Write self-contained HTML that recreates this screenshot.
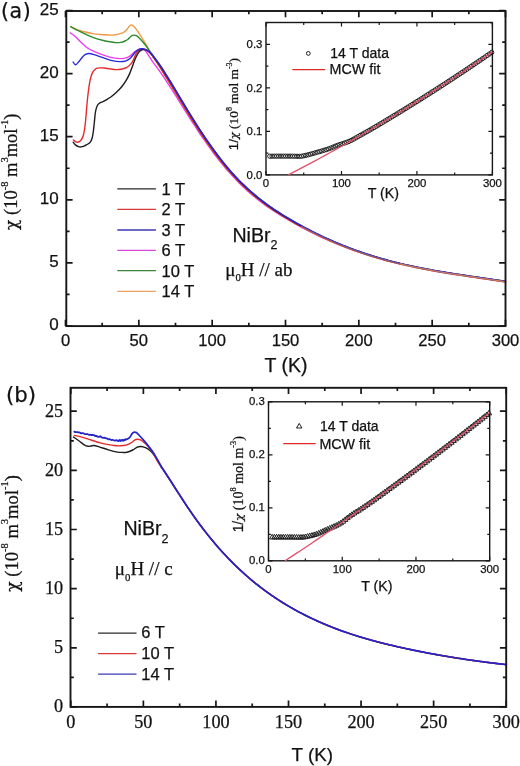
<!DOCTYPE html>
<html><head><meta charset="utf-8"><title>NiBr2 susceptibility</title>
<style>html,body{margin:0;padding:0;background:#fff;width:520px;height:766px;overflow:hidden}svg{display:block}</style>
</head><body>
<svg width="520" height="766" viewBox="0 0 520 766">
<style>text{stroke:#111;stroke-width:0.25px;paint-order:stroke}</style>
<rect width="520" height="766" fill="#fff"/>
<path d="M70.3,32.9C71.17,33.53 73.67,35.1 75.5,36.7C77.33,38.3 79.37,40.67 81.3,42.5C83.23,44.33 84.98,46.22 87.1,47.7C89.22,49.18 91.12,50.12 94,51.4C96.88,52.68 101.4,54.37 104.4,55.4C107.4,56.43 109.12,57.07 112,57.6C114.88,58.13 119.2,58.6 121.7,58.6C124.2,58.6 125.53,58.1 127,57.6C128.47,57.1 129.42,56.4 130.5,55.6C131.58,54.8 132.58,53.53 133.5,52.8C134.42,52.07 135.17,51.73 136,51.2C136.83,50.67 137.7,50 138.5,49.6C139.3,49.2 140.02,48.93 140.8,48.8C141.58,48.67 142.4,48.43 143.2,48.8C144,49.17 144.63,49.78 145.6,51C146.57,52.22 147.83,54.32 149,56.1C150.17,57.88 151.2,59.7 152.6,61.7C154,63.7 155.8,65.9 157.4,68.1C159,70.3 160.43,72.32 162.2,74.9C163.97,77.48 166.53,81.36 168,83.58C169.47,85.8 170,86.67 171,88.23C172,89.79 173,91.37 174,92.95C175,94.53 176,96.13 177,97.72C178,99.32 179,100.93 180,102.53C181,104.13 182,105.74 183,107.33C184,108.93 185,110.53 186,112.11C187,113.69 188,115.26 189,116.83C190,118.41 191,119.98 192,121.55C193,123.11 194,124.67 195,126.21C196,127.75 197,129.28 198,130.79C199,132.3 200,133.8 201,135.28C202,136.76 203,138.22 204,139.67C205,141.12 206,142.55 207,143.97C208,145.39 209,146.78 210,148.16C211,149.54 212,150.91 213,152.25C214,153.59 215,154.92 216,156.23C217,157.53 218,158.82 219,160.09C220,161.36 221,162.61 222,163.83C223,165.06 224,166.27 225,167.46C226,168.64 227,169.81 228,170.95C229,172.1 230,173.22 231,174.33C232,175.44 233,176.54 234,177.61C235,178.68 236,179.73 237,180.76C238,181.79 239,182.8 240,183.79C241,184.78 242,185.75 243,186.7C244,187.65 245,188.58 246,189.5C247,190.42 248,191.31 249,192.2C250,193.08 251,193.94 252,194.79C253,195.64 254,196.47 255,197.29C256,198.1 257,198.91 258,199.69C259,200.48 260,201.25 261,202.01C262,202.77 263,203.5 264,204.23C265,204.96 266,205.68 267,206.38C268,207.09 269,207.78 270,208.46C271,209.14 272,209.81 273,210.47C274,211.13 275,211.78 276,212.42C277,213.06 278,213.68 279,214.31C280,214.93 281,215.55 282,216.16C283,216.77 284,217.38 285,217.98C286,218.58 287,219.17 288,219.75C289,220.34 290,220.91 291,221.49C292,222.06 293,222.62 294,223.19C295,223.75 296,224.3 297,224.85C298,225.4 299,225.95 300,226.49C301,227.02 302,227.56 303,228.08C304,228.61 305,229.13 306,229.65C307,230.17 308,230.68 309,231.18C310,231.69 311,232.19 312,232.68C313,233.18 314,233.67 315,234.15C316,234.64 317,235.12 318,235.59C319,236.06 320,236.53 321,237C322,237.46 323,237.92 324,238.37C325,238.82 326,239.27 327,239.71C328,240.16 329,240.59 330,241.03C331,241.46 332,241.89 333,242.31C334,242.73 335,243.15 336,243.56C337,243.97 338,244.38 339,244.79C340,245.19 341,245.59 342,245.99C343,246.39 344,246.78 345,247.17C346,247.56 347,247.94 348,248.32C349,248.7 350,249.07 351,249.44C352,249.81 353,250.18 354,250.54C355,250.9 356,251.25 357,251.61C358,251.96 359,252.3 360,252.65C361,252.99 362,253.32 363,253.66C364,253.99 365,254.32 366,254.64C367,254.97 368,255.29 369,255.6C370,255.92 371,256.23 372,256.54C373,256.84 374,257.15 375,257.45C376,257.74 377,258.04 378,258.33C379,258.62 380,258.9 381,259.18C382,259.47 383,259.74 384,260.02C385,260.29 386,260.56 387,260.83C388,261.09 389,261.35 390,261.61C391,261.87 392,262.12 393,262.37C394,262.62 395,262.87 396,263.11C397,263.36 398,263.6 399,263.83C400,264.07 401,264.31 402,264.54C403,264.78 404,265.01 405,265.23C406,265.46 407,265.68 408,265.91C409,266.13 410,266.35 411,266.56C412,266.78 413,266.99 414,267.2C415,267.41 416,267.61 417,267.82C418,268.02 419,268.22 420,268.42C421,268.62 422,268.82 423,269.01C424,269.21 425,269.4 426,269.59C427,269.77 428,269.96 429,270.15C430,270.33 431,270.51 432,270.69C433,270.87 434,271.05 435,271.23C436,271.41 437,271.58 438,271.75C439,271.93 440,272.1 441,272.27C442,272.44 443,272.6 444,272.77C445,272.94 446,273.1 447,273.26C448,273.43 449,273.59 450,273.75C451,273.91 452,274.07 453,274.22C454,274.38 455,274.54 456,274.69C457,274.85 458,275 459,275.16C460,275.31 461,275.46 462,275.61C463,275.76 464,275.92 465,276.07C466,276.22 467,276.36 468,276.51C469,276.66 470,276.81 471,276.96C472,277.1 473,277.25 474,277.4C475,277.54 476,277.69 477,277.84C478,277.98 479,278.13 480,278.27C481,278.42 482,278.57 483,278.71C484,278.86 485,279 486,279.15C487,279.29 488,279.44 489,279.59C490,279.73 491,279.88 492,280.03C493,280.17 494,280.32 495,280.47C496,280.61 497,280.76 498,280.91C499,281.06 500,281.21 501,281.36C502,281.51 503.25,281.7 504,281.81C504.75,281.92 505.25,282 505.5,282.04" fill="none" stroke="#ec3cec" stroke-width="1.4" stroke-linejoin="round" stroke-linecap="round"/>
<path d="M70.7,26.7C72.47,27.42 77.62,29.85 81.3,31C84.98,32.15 89.68,33.02 92.8,33.6C95.92,34.18 97.5,34.27 100,34.5C102.5,34.73 105.47,34.92 107.8,35C110.13,35.08 112.07,35.2 114,35C115.93,34.8 117.82,34.25 119.4,33.8C120.98,33.35 122.32,32.93 123.5,32.3C124.68,31.67 125.62,30.9 126.5,30C127.38,29.1 128.13,27.72 128.8,26.9C129.47,26.08 130.05,25.43 130.5,25.1C130.95,24.77 131.17,24.85 131.5,24.9C131.83,24.95 131.97,25.02 132.5,25.4C133.03,25.78 133.95,26.37 134.7,27.2C135.45,28.03 136.22,29.3 137,30.4C137.78,31.5 138.03,31.67 139.4,33.8C140.77,35.93 143.27,39.89 145.2,43.2C147.13,46.51 149.53,51.17 151,53.63C152.47,56.1 153,56.54 154,57.99C155,59.45 156,60.85 157,62.35C158,63.84 159,65.4 160,66.99C161,68.57 162,70.2 163,71.83C164,73.47 165,75.17 166,76.79C167,78.41 168,79.97 169,81.58C170,83.19 171,84.81 172,86.44C173,88.07 174,89.71 175,91.36C176,93.02 177,94.69 178,96.36C179,98.02 180,99.69 181,101.36C182,103.02 183,104.69 184,106.34C185,108 186,109.66 187,111.3C188,112.94 189,114.58 190,116.19C191,117.8 192,119.39 193,120.97C194,122.55 195,124.12 196,125.67C197,127.22 198,128.76 199,130.28C200,131.8 201,133.3 202,134.79C203,136.28 204,137.76 205,139.22C206,140.67 207,142.12 208,143.54C209,144.96 210,146.37 211,147.76C212,149.15 213,150.52 214,151.87C215,153.22 216,154.55 217,155.87C218,157.18 219,158.48 220,159.75C221,161.03 222,162.28 223,163.51C224,164.75 225,165.96 226,167.16C227,168.35 228,169.52 229,170.67C230,171.82 231,172.95 232,174.06C233,175.17 234,176.26 235,177.33C236,178.4 237,179.45 238,180.48C239,181.5 240,182.51 241,183.5C242,184.49 243,185.46 244,186.41C245,187.36 246,188.3 247,189.21C248,190.13 249,191.03 250,191.91C251,192.79 252,193.66 253,194.51C254,195.36 255,196.19 256,197.01C257,197.83 258,198.63 259,199.42C260,200.21 261,200.98 262,201.74C263,202.5 264,203.25 265,203.98C266,204.71 267,205.43 268,206.14C269,206.85 270,207.54 271,208.23C272,208.92 273,209.59 274,210.25C275,210.92 276,211.57 277,212.22C278,212.86 279,213.5 280,214.13C281,214.76 282,215.38 283,215.99C284,216.61 285,217.21 286,217.81C287,218.41 288,219.01 289,219.59C290,220.18 291,220.76 292,221.34C293,221.91 294,222.48 295,223.05C296,223.61 297,224.17 298,224.72C299,225.27 300,225.82 301,226.36C302,226.9 303,227.44 304,227.97C305,228.5 306,229.03 307,229.55C308,230.06 309,230.58 310,231.09C311,231.6 312,232.1 313,232.6C314,233.1 315,233.59 316,234.08C317,234.56 318,235.05 319,235.52C320,236 321,236.47 322,236.94C323,237.4 324,237.87 325,238.32C326,238.78 327,239.23 328,239.67C329,240.12 330,240.56 331,241C332,241.43 333,241.86 334,242.29C335,242.72 336,243.14 337,243.55C338,243.97 339,244.38 340,244.79C341,245.19 342,245.59 343,245.99C344,246.39 345,246.78 346,247.17C347,247.55 348,247.93 349,248.31C350,248.69 351,249.06 352,249.43C353,249.8 354,250.16 355,250.52C356,250.88 357,251.24 358,251.58C359,251.93 360,252.28 361,252.62C362,252.96 363,253.3 364,253.63C365,253.96 366,254.29 367,254.61C368,254.93 369,255.25 370,255.57C371,255.88 372,256.19 373,256.5C374,256.8 375,257.1 376,257.4C377,257.7 378,257.99 379,258.28C380,258.57 381,258.85 382,259.13C383,259.42 384,259.69 385,259.96C386,260.24 387,260.51 388,260.77C389,261.03 390,261.3 391,261.55C392,261.81 393,262.06 394,262.31C395,262.56 396,262.81 397,263.05C398,263.29 399,263.53 400,263.77C401,264.01 402,264.24 403,264.47C404,264.71 405,264.93 406,265.16C407,265.38 408,265.61 409,265.83C410,266.05 411,266.26 412,266.47C413,266.69 414,266.9 415,267.11C416,267.31 417,267.52 418,267.72C419,267.92 420,268.12 421,268.32C422,268.52 423,268.71 424,268.9C425,269.1 426,269.29 427,269.47C428,269.66 429,269.85 430,270.03C431,270.21 432,270.39 433,270.57C434,270.75 435,270.93 436,271.11C437,271.28 438,271.45 439,271.63C440,271.8 441,271.97 442,272.14C443,272.3 444,272.47 445,272.63C446,272.8 447,272.96 448,273.12C449,273.29 450,273.45 451,273.61C452,273.77 453,273.92 454,274.08C455,274.24 456,274.39 457,274.55C458,274.7 459,274.86 460,275.01C461,275.16 462,275.31 463,275.46C464,275.62 465,275.77 466,275.91C467,276.06 468,276.21 469,276.36C470,276.51 471,276.66 472,276.8C473,276.95 474,277.1 475,277.24C476,277.39 477,277.54 478,277.68C479,277.83 480,277.97 481,278.12C482,278.27 483,278.41 484,278.56C485,278.7 486,278.85 487,278.99C488,279.14 489,279.29 490,279.43C491,279.58 492,279.73 493,279.87C494,280.02 495,280.17 496,280.31C497,280.46 498,280.61 499,280.76C500,280.91 501,281.06 502,281.21C503,281.36 504.42,281.57 505,281.66C505.58,281.75 505.42,281.73 505.5,281.74" fill="none" stroke="#f49a48" stroke-width="1.4" stroke-linejoin="round" stroke-linecap="round"/>
<path d="M70.7,26.7C72.47,27.6 77.62,30.33 81.3,32.1C84.98,33.87 88.95,35.85 92.8,37.3C96.65,38.75 101.53,40.07 104.4,40.8C107.27,41.53 108.07,41.4 110,41.7C111.93,42 114.17,42.48 116,42.6C117.83,42.72 119.5,42.67 121,42.4C122.5,42.13 123.83,41.53 125,41C126.17,40.47 127.08,39.9 128,39.2C128.92,38.5 129.75,37.43 130.5,36.8C131.25,36.17 131.92,35.68 132.5,35.4C133.08,35.12 133.42,35.08 134,35.1C134.58,35.12 135.3,35.2 136,35.5C136.7,35.8 137.05,35.82 138.2,36.9C139.35,37.98 141.33,40.15 142.9,42C144.47,43.85 145.92,45.57 147.6,48C149.28,50.43 151.6,54.44 153,56.58C154.4,58.73 155,59.4 156,60.87C157,62.35 158,63.87 159,65.42C160,66.97 161,68.53 162,70.16C163,71.79 164,73.58 165,75.21C166,76.85 167,78.37 168,79.97C169,81.57 170,83.19 171,84.81C172,86.44 173,88.07 174,89.72C175,91.37 176,93.03 177,94.69C178,96.35 179,98.02 180,99.69C181,101.36 182,103.02 183,104.68C184,106.34 185,108 186,109.65C187,111.3 188,112.95 189,114.57C190,116.19 191,117.8 192,119.39C193,120.98 194,122.55 195,124.11C196,125.67 197,127.22 198,128.75C199,130.28 200,131.8 201,133.3C202,134.8 203,136.28 204,137.75C205,139.22 206,140.67 207,142.11C208,143.55 209,144.96 210,146.36C211,147.76 212,149.15 213,150.51C214,151.87 215,153.22 216,154.55C217,155.87 218,157.18 219,158.47C220,159.76 221,161.03 222,162.27C223,163.52 224,164.75 225,165.96C226,167.16 227,168.35 228,169.51C229,170.68 230,171.82 231,172.94C232,174.07 233,175.17 234,176.25C235,177.34 236,178.4 237,179.44C238,180.48 239,181.5 240,182.51C241,183.51 242,184.49 243,185.45C244,186.42 245,187.36 246,188.29C247,189.22 248,190.13 249,191.02C250,191.92 251,192.79 252,193.65C253,194.51 254,195.36 255,196.19C256,197.02 257,197.83 258,198.63C259,199.43 260,200.21 261,200.98C262,201.75 263,202.5 264,203.24C265,203.98 266,204.71 267,205.43C268,206.14 269,206.85 270,207.54C271,208.23 272,208.91 273,209.59C274,210.26 275,210.92 276,211.57C277,212.22 278,212.86 279,213.5C280,214.13 281,214.76 282,215.38C283,216 284,216.61 285,217.21C286,217.82 287,218.41 288,219C289,219.6 290,220.18 291,220.76C292,221.34 293,221.91 294,222.48C295,223.05 296,223.61 297,224.17C298,224.72 299,225.27 300,225.82C301,226.36 302,226.9 303,227.44C304,227.97 305,228.5 306,229.02C307,229.55 308,230.06 309,230.58C310,231.09 311,231.6 312,232.1C313,232.6 314,233.1 315,233.59C316,234.08 317,234.56 318,235.04C319,235.52 320,236 321,236.47C322,236.94 323,237.4 324,237.86C325,238.32 326,238.78 327,239.23C328,239.68 329,240.12 330,240.56C331,241 332,241.43 333,241.86C334,242.29 335,242.72 336,243.14C337,243.55 338,243.97 339,244.38C340,244.79 341,245.19 342,245.59C343,245.99 344,246.39 345,246.78C346,247.17 347,247.55 348,247.93C349,248.31 350,248.69 351,249.06C352,249.43 353,249.8 354,250.16C355,250.52 356,250.88 357,251.23C358,251.59 359,251.93 360,252.28C361,252.62 362,252.96 363,253.3C364,253.63 365,253.96 366,254.29C367,254.61 368,254.93 369,255.25C370,255.57 371,255.88 372,256.19C373,256.5 374,256.8 375,257.1C376,257.4 377,257.7 378,257.99C379,258.28 380,258.57 381,258.85C382,259.14 383,259.42 384,259.69C385,259.97 386,260.24 387,260.5C388,260.77 389,261.03 390,261.29C391,261.55 392,261.81 393,262.06C394,262.31 395,262.56 396,262.81C397,263.05 398,263.29 399,263.53C400,263.77 401,264.01 402,264.24C403,264.48 404,264.71 405,264.93C406,265.16 407,265.38 408,265.61C409,265.83 410,266.05 411,266.26C412,266.48 413,266.69 414,266.9C415,267.11 416,267.31 417,267.52C418,267.72 419,267.92 420,268.12C421,268.32 422,268.52 423,268.71C424,268.91 425,269.1 426,269.29C427,269.47 428,269.66 429,269.85C430,270.03 431,270.21 432,270.39C433,270.57 434,270.75 435,270.93C436,271.11 437,271.28 438,271.45C439,271.63 440,271.8 441,271.97C442,272.14 443,272.3 444,272.47C445,272.64 446,272.8 447,272.96C448,273.13 449,273.29 450,273.45C451,273.61 452,273.77 453,273.92C454,274.08 455,274.24 456,274.39C457,274.55 458,274.7 459,274.86C460,275.01 461,275.16 462,275.31C463,275.46 464,275.62 465,275.77C466,275.92 467,276.06 468,276.21C469,276.36 470,276.51 471,276.66C472,276.8 473,276.95 474,277.1C475,277.24 476,277.39 477,277.54C478,277.68 479,277.83 480,277.97C481,278.12 482,278.27 483,278.41C484,278.56 485,278.7 486,278.85C487,278.99 488,279.14 489,279.29C490,279.43 491,279.58 492,279.73C493,279.87 494,280.02 495,280.17C496,280.31 497,280.46 498,280.61C499,280.76 500,280.91 501,281.06C502,281.21 503.25,281.4 504,281.51C504.75,281.62 505.25,281.7 505.5,281.74" fill="none" stroke="#2e8a2e" stroke-width="1.4" stroke-linejoin="round" stroke-linecap="round"/>
<path d="M73.4,139.9C73.75,140.18 74.82,141.22 75.5,141.6C76.18,141.98 76.8,142.23 77.5,142.2C78.2,142.17 79.02,141.88 79.7,141.4C80.38,140.92 81,140.28 81.6,139.3C82.2,138.32 82.8,137.22 83.3,135.5C83.8,133.78 84.2,131.67 84.6,129C85,126.33 85.32,123.47 85.7,119.5C86.08,115.53 86.5,109.53 86.9,105.2C87.3,100.87 87.62,97.42 88.1,93.5C88.58,89.58 89.28,84.62 89.8,81.7C90.32,78.78 90.7,77.58 91.2,76C91.7,74.42 92.25,73.2 92.8,72.2C93.35,71.2 93.88,70.63 94.5,70C95.12,69.37 95.58,68.75 96.5,68.4C97.42,68.05 98.68,67.97 100,67.9C101.32,67.83 102.73,67.83 104.4,68C106.07,68.17 108.07,68.63 110,68.9C111.93,69.17 114.17,69.53 116,69.6C117.83,69.67 119.42,69.57 121,69.3C122.58,69.03 124.25,68.52 125.5,68C126.75,67.48 127.5,67 128.5,66.2C129.5,65.4 130.62,64.4 131.5,63.2C132.38,62 133.08,60.5 133.8,59C134.52,57.5 135.07,55.53 135.8,54.2C136.53,52.87 137.32,51.82 138.2,51C139.08,50.18 140.1,49.58 141.1,49.3C142.1,49.02 143.12,49.05 144.2,49.3C145.28,49.55 146.3,49.83 147.6,50.8C148.9,51.77 150.77,53.66 152,55.1C153.23,56.54 154,57.96 155,59.42C156,60.89 157,62.35 158,63.87C159,65.4 160,66.96 161,68.57C162,70.17 163,71.88 164,73.52C165,75.15 166,76.76 167,78.37C168,79.99 169,81.57 170,83.19C171,84.81 172,86.44 173,88.08C174,89.72 175,91.37 176,93.03C177,94.68 178,96.36 179,98.02C180,99.69 181,101.36 182,103.02C183,104.68 184,106.35 185,108C186,109.65 187,111.3 188,112.94C189,114.57 190,116.19 191,117.79C192,119.4 193,120.98 194,122.55C195,124.12 196,125.67 197,127.21C198,128.76 199,130.28 200,131.79C201,133.3 202,134.8 203,136.28C204,137.76 205,139.22 206,140.67C207,142.12 208,143.55 209,144.96C210,146.37 211,147.76 212,149.14C213,150.52 214,151.88 215,153.21C216,154.55 217,155.87 218,157.18C219,158.48 220,159.76 221,161.02C222,162.28 223,163.52 224,164.74C225,165.96 226,167.16 227,168.34C228,169.52 229,170.67 230,171.81C231,172.95 232,174.07 233,175.17C234,176.26 235,177.34 236,178.39C237,179.45 238,180.48 239,181.5C240,182.51 241,183.51 242,184.48C243,185.46 244,186.42 245,187.36C246,188.3 247,189.22 248,190.12C249,191.03 250,191.92 251,192.79C252,193.66 253,194.51 254,195.35C255,196.19 256,197.02 257,197.82C258,198.63 259,199.43 260,200.21C261,200.99 262,201.75 263,202.5C264,203.25 265,203.98 266,204.71C267,205.43 268,206.14 269,206.84C270,207.54 271,208.23 272,208.91C273,209.59 274,210.26 275,210.91C276,211.57 277,212.22 278,212.86C279,213.5 280,214.13 281,214.75C282,215.38 283,215.99 284,216.6C285,217.21 286,217.82 287,218.41C288,219.01 289,219.59 290,220.18C291,220.76 292,221.34 293,221.91C294,222.48 295,223.05 296,223.61C297,224.17 298,224.72 299,225.27C300,225.82 301,226.36 302,226.9C303,227.44 304,227.97 305,228.5C306,229.03 307,229.55 308,230.06C309,230.58 310,231.09 311,231.59C312,232.1 313,232.6 314,233.09C315,233.59 316,234.08 317,234.56C318,235.05 319,235.52 320,236C321,236.47 322,236.94 323,237.4C324,237.87 325,238.32 326,238.78C327,239.23 328,239.68 329,240.12C330,240.56 331,241 332,241.43C333,241.86 334,242.29 335,242.71C336,243.14 337,243.55 338,243.97C339,244.38 340,244.79 341,245.19C342,245.59 343,245.99 344,246.39C345,246.78 346,247.17 347,247.55C348,247.94 349,248.31 350,248.69C351,249.06 352,249.43 353,249.8C354,250.16 355,250.52 356,250.88C357,251.24 358,251.59 359,251.93C360,252.28 361,252.62 362,252.96C363,253.3 364,253.63 365,253.96C366,254.29 367,254.61 368,254.93C369,255.25 370,255.57 371,255.88C372,256.19 373,256.5 374,256.8C375,257.1 376,257.4 377,257.7C378,257.99 379,258.28 380,258.57C381,258.85 382,259.14 383,259.41C384,259.69 385,259.97 386,260.24C387,260.51 388,260.77 389,261.03C390,261.3 391,261.55 392,261.81C393,262.06 394,262.31 395,262.56C396,262.81 397,263.05 398,263.29C399,263.53 400,263.77 401,264.01C402,264.24 403,264.48 404,264.71C405,264.93 406,265.16 407,265.38C408,265.61 409,265.83 410,266.04C411,266.26 412,266.48 413,266.69C414,266.9 415,267.11 416,267.31C417,267.52 418,267.72 419,267.92C420,268.12 421,268.32 422,268.52C423,268.71 424,268.91 425,269.1C426,269.29 427,269.47 428,269.66C429,269.85 430,270.03 431,270.21C432,270.4 433,270.57 434,270.75C435,270.93 436,271.11 437,271.28C438,271.45 439,271.63 440,271.8C441,271.97 442,272.14 443,272.3C444,272.47 445,272.64 446,272.8C447,272.96 448,273.13 449,273.29C450,273.45 451,273.61 452,273.77C453,273.92 454,274.08 455,274.24C456,274.39 457,274.55 458,274.7C459,274.86 460,275.01 461,275.16C462,275.31 463,275.46 464,275.62C465,275.77 466,275.92 467,276.06C468,276.21 469,276.36 470,276.51C471,276.66 472,276.8 473,276.95C474,277.1 475,277.24 476,277.39C477,277.54 478,277.68 479,277.83C480,277.97 481,278.12 482,278.27C483,278.41 484,278.56 485,278.7C486,278.85 487,278.99 488,279.14C489,279.29 490,279.43 491,279.58C492,279.73 493,279.87 494,280.02C495,280.17 496,280.31 497,280.46C498,280.61 499,280.76 500,280.91C501,281.06 502.08,281.22 503,281.36C503.92,281.5 505.08,281.68 505.5,281.74" fill="none" stroke="#e52a2a" stroke-width="1.4" stroke-linejoin="round" stroke-linecap="round"/>
<path d="M73.2,142.2C73.62,142.68 74.68,144.32 75.7,145.1C76.72,145.88 78.17,146.65 79.3,146.9C80.43,147.15 81.53,146.83 82.5,146.6C83.47,146.37 84.18,145.93 85.1,145.5C86.02,145.07 87.12,144.62 88,144C88.88,143.38 89.73,142.72 90.4,141.8C91.07,140.88 91.53,140.05 92,138.5C92.47,136.95 92.82,135.12 93.2,132.5C93.58,129.88 93.95,126.05 94.3,122.8C94.65,119.55 94.93,115.53 95.3,113C95.67,110.47 96.03,109.03 96.5,107.6C96.97,106.17 97.43,105.23 98.1,104.4C98.77,103.57 99.68,103.07 100.5,102.6C101.32,102.13 102.05,102.07 103,101.6C103.95,101.13 104.95,100.52 106.2,99.8C107.45,99.08 108.97,98.38 110.5,97.3C112.03,96.22 113.98,94.55 115.4,93.3C116.82,92.05 117.85,91.02 119,89.8C120.15,88.58 121.13,87.53 122.3,86C123.47,84.47 124.85,82.5 126,80.6C127.15,78.7 128.27,76.6 129.2,74.6C130.13,72.6 130.83,70.6 131.6,68.6C132.37,66.6 133.13,64.37 133.8,62.6C134.47,60.83 135.02,59.33 135.6,58C136.18,56.67 136.7,55.63 137.3,54.6C137.9,53.57 138.52,52.57 139.2,51.8C139.88,51.03 140.57,50.37 141.4,50C142.23,49.63 143.17,49.48 144.2,49.6C145.23,49.72 146.3,49.86 147.6,50.7C148.9,51.54 150.77,53.33 152,54.64C153.23,55.96 154,57.25 155,58.59C156,59.92 157,61.26 158,62.66C159,64.05 160,65.49 161,66.97C162,68.45 163,69.98 164,71.53C165,73.09 166,74.68 167,76.28C168,77.88 169,79.49 170,81.12C171,82.74 172,84.38 173,86.03C174,87.67 175,89.33 176,91C177,92.66 178,94.34 179,96.02C180,97.69 181,99.37 182,101.04C183,102.71 184,104.38 185,106.04C186,107.7 187,109.35 188,110.99C189,112.64 190,114.27 191,115.89C192,117.5 193,119.11 194,120.7C195,122.29 196,123.86 197,125.42C198,126.98 199,128.53 200,130.06C201,131.59 202,133.1 203,134.6C204,136.1 205,137.59 206,139.05C207,140.52 208,141.97 209,143.4C210,144.83 211,146.24 212,147.64C213,149.03 214,150.41 215,151.77C216,153.13 217,154.47 218,155.79C219,157.11 220,158.41 221,159.69C222,160.97 223,162.23 224,163.47C225,164.71 226,165.93 227,167.13C228,168.33 229,169.51 230,170.66C231,171.81 232,172.93 233,174.03C234,175.14 235,176.22 236,177.28C237,178.35 238,179.39 239,180.41C240,181.43 241,182.43 242,183.42C243,184.4 244,185.37 245,186.32C246,187.26 247,188.19 248,189.1C249,190.02 250,190.91 251,191.79C252,192.67 253,193.53 254,194.38C255,195.22 256,196.05 257,196.87C258,197.69 259,198.49 260,199.27C261,200.06 262,200.83 263,201.59C264,202.34 265,203.09 266,203.82C267,204.55 268,205.27 269,205.98C270,206.68 271,207.38 272,208.07C273,208.75 274,209.43 275,210.09C276,210.76 277,211.41 278,212.06C279,212.71 280,213.34 281,213.97C282,214.6 283,215.22 284,215.84C285,216.45 286,217.05 287,217.65C288,218.25 289,218.85 290,219.43C291,220.02 292,220.6 293,221.18C294,221.76 295,222.33 296,222.89C297,223.45 298,224.01 299,224.57C300,225.12 301,225.67 302,226.21C303,226.75 304,227.28 305,227.81C306,228.34 307,228.87 308,229.39C309,229.91 310,230.42 311,230.93C312,231.44 313,231.94 314,232.44C315,232.93 316,233.43 317,233.91C318,234.4 319,234.88 320,235.36C321,235.83 322,236.31 323,236.77C324,237.24 325,237.7 326,238.15C327,238.61 328,239.06 329,239.51C330,239.95 331,240.39 332,240.83C333,241.26 334,241.69 335,242.12C336,242.54 337,242.97 338,243.38C339,243.8 340,244.21 341,244.61C342,245.02 343,245.42 344,245.82C345,246.21 346,246.61 347,246.99C348,247.38 349,247.76 350,248.14C351,248.52 352,248.89 353,249.26C354,249.62 355,249.99 356,250.35C357,250.71 358,251.06 359,251.41C360,251.76 361,252.11 362,252.45C363,252.79 364,253.12 365,253.45C366,253.79 367,254.11 368,254.44C369,254.76 370,255.08 371,255.39C372,255.71 373,256.02 374,256.32C375,256.63 376,256.93 377,257.23C378,257.53 379,257.82 380,258.11C381,258.4 382,258.68 383,258.96C384,259.24 385,259.52 386,259.79C387,260.07 388,260.34 389,260.6C390,260.87 391,261.13 392,261.38C393,261.64 394,261.9 395,262.15C396,262.4 397,262.64 398,262.89C399,263.13 400,263.37 401,263.61C402,263.84 403,264.08 404,264.31C405,264.53 406,264.76 407,264.98C408,265.21 409,265.43 410,265.64C411,265.86 412,266.08 413,266.29C414,266.5 415,266.71 416,266.91C417,267.12 418,267.32 419,267.52C420,267.72 421,267.92 422,268.12C423,268.31 424,268.51 425,268.7C426,268.89 427,269.07 428,269.26C429,269.45 430,269.63 431,269.81C432,270 433,270.17 434,270.35C435,270.53 436,270.71 437,270.88C438,271.05 439,271.23 440,271.4C441,271.57 442,271.74 443,271.9C444,272.07 445,272.24 446,272.4C447,272.56 448,272.73 449,272.89C450,273.05 451,273.21 452,273.37C453,273.52 454,273.68 455,273.84C456,273.99 457,274.15 458,274.3C459,274.46 460,274.61 461,274.76C462,274.91 463,275.06 464,275.22C465,275.37 466,275.52 467,275.66C468,275.81 469,275.96 470,276.11C471,276.26 472,276.4 473,276.55C474,276.7 475,276.84 476,276.99C477,277.14 478,277.28 479,277.43C480,277.57 481,277.72 482,277.87C483,278.01 484,278.16 485,278.3C486,278.45 487,278.59 488,278.74C489,278.89 490,279.03 491,279.18C492,279.33 493,279.47 494,279.62C495,279.77 496,279.91 497,280.06C498,280.21 499,280.36 500,280.51C501,280.66 502.08,280.82 503,280.96C503.92,281.1 505.08,281.28 505.5,281.34" fill="none" stroke="#1c1c1c" stroke-width="1.4" stroke-linejoin="round" stroke-linecap="round"/>
<path d="M73.2,62.1C73.58,62.55 74.53,64.9 75.5,64.8C76.47,64.7 77.83,62.82 79,61.5C80.17,60.18 81.33,58.12 82.5,56.9C83.67,55.68 84.92,54.77 86,54.2C87.08,53.63 87.67,53.43 89,53.5C90.33,53.57 91.43,53.83 94,54.6C96.57,55.37 101.4,57.1 104.4,58.1C107.4,59.1 109.4,60.02 112,60.6C114.6,61.18 117.67,61.57 120,61.6C122.33,61.63 124.33,61.32 126,60.8C127.67,60.28 128.83,59.47 130,58.5C131.17,57.53 132.03,56.18 133,55C133.97,53.82 134.8,52.35 135.8,51.4C136.8,50.45 138.02,49.75 139,49.3C139.98,48.85 140.78,48.73 141.7,48.7C142.62,48.67 143.52,48.8 144.5,49.1C145.48,49.4 146.52,49.85 147.6,50.5C148.68,51.15 149.93,51.93 151,53.01C152.07,54.09 153,55.66 154,56.99C155,58.31 156,59.59 157,60.96C158,62.33 159,63.76 160,65.22C161,66.67 162,68.16 163,69.69C164,71.22 165,72.81 166,74.4C167,75.98 168,77.59 169,79.21C170,80.83 171,82.46 172,84.1C173,85.74 174,87.38 175,89.04C176,90.7 177,92.39 178,94.06C179,95.73 180,97.41 181,99.08C182,100.76 183,102.43 184,104.1C185,105.76 186,107.42 187,109.07C188,110.72 189,112.36 190,113.99C191,115.62 192,117.23 193,118.83C194,120.43 195,122.02 196,123.59C197,125.16 198,126.72 199,128.26C200,129.8 201,131.32 202,132.83C203,134.34 204,135.84 205,137.32C206,138.79 207,140.26 208,141.7C209,143.14 210,144.57 211,145.98C212,147.39 213,148.78 214,150.15C215,151.52 216,152.87 217,154.21C218,155.54 219,156.86 220,158.15C221,159.45 222,160.72 223,161.97C224,163.23 225,164.46 226,165.68C227,166.89 228,168.08 229,169.25C230,170.42 231,171.56 232,172.68C233,173.8 234,174.89 235,175.97C236,177.05 237,178.1 238,179.14C239,180.18 240,181.19 241,182.19C242,183.19 243,184.16 244,185.12C245,186.08 246,187.03 247,187.95C248,188.87 249,189.78 250,190.67C251,191.56 252,192.43 253,193.29C254,194.15 255,194.99 256,195.82C257,196.65 258,197.46 259,198.26C260,199.05 261,199.83 262,200.6C263,201.37 264,202.12 265,202.86C266,203.6 267,204.33 268,205.04C269,205.76 270,206.46 271,207.16C272,207.85 273,208.53 274,209.21C275,209.88 276,210.54 277,211.19C278,211.85 279,212.49 280,213.13C281,213.76 282,214.39 283,215.01C284,215.63 285,216.24 286,216.84C287,217.45 288,218.05 289,218.64C290,219.23 291,219.82 292,220.4C293,220.98 294,221.55 295,222.12C296,222.69 297,223.25 298,223.81C299,224.37 300,224.92 301,225.47C302,226.01 303,226.55 304,227.09C305,227.63 306,228.16 307,228.68C308,229.2 309,229.72 310,230.24C311,230.75 312,231.26 313,231.76C314,232.27 315,232.76 316,233.26C317,233.75 318,234.24 319,234.72C320,235.2 321,235.68 322,236.15C323,236.62 324,237.09 325,237.55C326,238.01 327,238.46 328,238.91C329,239.37 330,239.81 331,240.25C332,240.69 333,241.13 334,241.56C335,241.99 336,242.42 337,242.84C338,243.26 339,243.67 340,244.09C341,244.5 342,244.9 343,245.31C344,245.71 345,246.1 346,246.5C347,246.89 348,247.27 349,247.66C350,248.04 351,248.42 352,248.79C353,249.16 354,249.53 355,249.9C356,250.26 357,250.62 358,250.97C359,251.33 360,251.68 361,252.03C362,252.37 363,252.71 364,253.05C365,253.39 366,253.72 367,254.05C368,254.37 369,254.7 370,255.02C371,255.34 372,255.65 373,255.96C374,256.27 375,256.58 376,256.88C377,257.18 378,257.48 379,257.78C380,258.07 381,258.36 382,258.64C383,258.93 384,259.21 385,259.49C386,259.77 387,260.04 388,260.31C389,260.58 390,260.85 391,261.11C392,261.37 393,261.63 394,261.88C395,262.14 396,262.39 397,262.64C398,262.88 399,263.13 400,263.37C401,263.61 402,263.84 403,264.07C404,264.31 405,264.53 406,264.76C407,264.98 408,265.21 409,265.43C410,265.65 411,265.86 412,266.07C413,266.29 414,266.5 415,266.71C416,266.91 417,267.12 418,267.32C419,267.52 420,267.72 421,267.92C422,268.12 423,268.31 424,268.5C425,268.7 426,268.89 427,269.07C428,269.26 429,269.45 430,269.63C431,269.81 432,269.99 433,270.17C434,270.35 435,270.53 436,270.71C437,270.88 438,271.05 439,271.23C440,271.4 441,271.57 442,271.74C443,271.9 444,272.07 445,272.23C446,272.4 447,272.56 448,272.72C449,272.89 450,273.05 451,273.21C452,273.37 453,273.52 454,273.68C455,273.84 456,273.99 457,274.15C458,274.3 459,274.46 460,274.61C461,274.76 462,274.91 463,275.06C464,275.22 465,275.37 466,275.51C467,275.66 468,275.81 469,275.96C470,276.11 471,276.26 472,276.4C473,276.55 474,276.7 475,276.84C476,276.99 477,277.14 478,277.28C479,277.43 480,277.57 481,277.72C482,277.87 483,278.01 484,278.16C485,278.3 486,278.45 487,278.59C488,278.74 489,278.89 490,279.03C491,279.18 492,279.33 493,279.47C494,279.62 495,279.77 496,279.91C497,280.06 498,280.21 499,280.36C500,280.51 501,280.66 502,280.81C503,280.96 504.42,281.17 505,281.26C505.58,281.35 505.42,281.33 505.5,281.34" fill="none" stroke="#2828d8" stroke-width="1.4" stroke-linejoin="round" stroke-linecap="round"/>
<path d="M301,226.36C301.5,226.63 303,227.44 304,227.97C305,228.5 306,229.03 307,229.55C308,230.06 309,230.58 310,231.09C311,231.6 312,232.1 313,232.6C314,233.1 315,233.59 316,234.08C317,234.56 318,235.05 319,235.52C320,236 321,236.47 322,236.94C323,237.4 324,237.87 325,238.32C326,238.78 327,239.23 328,239.67C329,240.12 330,240.56 331,241C332,241.43 333,241.86 334,242.29C335,242.72 336,243.14 337,243.55C338,243.97 339,244.38 340,244.79C341,245.19 342,245.59 343,245.99C344,246.39 345,246.78 346,247.17C347,247.55 348,247.93 349,248.31C350,248.69 351,249.06 352,249.43C353,249.8 354,250.16 355,250.52C356,250.88 357,251.24 358,251.58C359,251.93 360,252.28 361,252.62C362,252.96 363,253.3 364,253.63C365,253.96 366,254.29 367,254.61C368,254.93 369,255.25 370,255.57C371,255.88 372,256.19 373,256.5C374,256.8 375,257.1 376,257.4C377,257.7 378,257.99 379,258.28C380,258.57 381,258.85 382,259.13C383,259.42 384,259.69 385,259.96C386,260.24 387,260.51 388,260.77C389,261.03 390,261.3 391,261.55C392,261.81 393,262.06 394,262.31C395,262.56 396,262.81 397,263.05C398,263.29 399.5,263.65 400,263.77" fill="none" stroke="#f49a48" stroke-width="1.4" stroke-linecap="butt" opacity="0.45"/>
<path d="M400,263.77C400.5,263.89 402,264.24 403,264.47C404,264.71 405,264.93 406,265.16C407,265.38 408,265.61 409,265.83C410,266.05 411,266.26 412,266.47C413,266.69 414,266.9 415,267.11C416,267.31 417,267.52 418,267.72C419,267.92 420,268.12 421,268.32C422,268.52 423,268.71 424,268.9C425,269.1 426,269.29 427,269.47C428,269.66 429,269.85 430,270.03C431,270.21 432,270.39 433,270.57C434,270.75 435,270.93 436,271.11C437,271.28 438,271.45 439,271.63C440,271.8 441,271.97 442,272.14C443,272.3 444,272.47 445,272.63C446,272.8 447,272.96 448,273.12C449,273.29 450,273.45 451,273.61C452,273.77 453,273.92 454,274.08C455,274.24 456,274.39 457,274.55C458,274.7 459,274.86 460,275.01C461,275.16 462,275.31 463,275.46C464,275.62 465,275.77 466,275.91C467,276.06 468,276.21 469,276.36C470,276.51 471,276.66 472,276.8C473,276.95 474,277.1 475,277.24C476,277.39 477,277.54 478,277.68C479,277.83 480,277.97 481,278.12C482,278.27 483,278.41 484,278.56C485,278.7 486,278.85 487,278.99C488,279.14 489,279.29 490,279.43C491,279.58 492,279.73 493,279.87C494,280.02 495,280.17 496,280.31C497,280.46 498,280.61 499,280.76C500,280.91 501,281.06 502,281.21C503,281.36 504.42,281.57 505,281.66C505.58,281.75 505.42,281.73 505.5,281.74" fill="none" stroke="#f49a48" stroke-width="1.4" stroke-linecap="butt" opacity="0.75"/>
<rect x="266" y="22.5" width="226.4" height="152.4" fill="#fff" stroke="#161616" stroke-width="1.4"/>
<path d="M266,174.9v-4M266,22.5v4M303.73,174.9v-2.4M303.73,22.5v2.4M341.47,174.9v-4M341.47,22.5v4M379.2,174.9v-2.4M379.2,22.5v2.4M416.93,174.9v-4M416.93,22.5v4M454.67,174.9v-2.4M454.67,22.5v2.4M492.4,174.9v-4M492.4,22.5v4M266,174.9h4M492.4,174.9h-4M266,153.15h2.4M492.4,153.15h-2.4M266,131.4h4M492.4,131.4h-4M266,109.65h2.4M492.4,109.65h-2.4M266,87.9h4M492.4,87.9h-4M266,66.15h2.4M492.4,66.15h-2.4M266,44.4h4M492.4,44.4h-4M266,22.65h2.4M492.4,22.65h-2.4" stroke="#161616" stroke-width="1.2" fill="none"/>
<g fill="none" stroke="#1e1e1e" stroke-width="1.0"><circle cx="269.77" cy="156.19" r="2.15"/><circle cx="272.04" cy="156.18" r="2.15"/><circle cx="274.3" cy="156.17" r="2.15"/><circle cx="276.57" cy="156.16" r="2.15"/><circle cx="278.83" cy="156.15" r="2.15"/><circle cx="281.09" cy="156.15" r="2.15"/><circle cx="283.36" cy="156.15" r="2.15"/><circle cx="285.62" cy="156.15" r="2.15"/><circle cx="287.89" cy="156.15" r="2.15"/><circle cx="290.15" cy="156.15" r="2.15"/><circle cx="292.41" cy="156.18" r="2.15"/><circle cx="294.68" cy="156.24" r="2.15"/><circle cx="296.94" cy="156.3" r="2.15"/><circle cx="299.21" cy="156.36" r="2.15"/><circle cx="301.47" cy="156.24" r="2.15"/><circle cx="303.73" cy="155.78" r="2.15"/><circle cx="306" cy="155.31" r="2.15"/><circle cx="308.26" cy="154.75" r="2.15"/><circle cx="310.53" cy="154.17" r="2.15"/><circle cx="312.79" cy="153.55" r="2.15"/><circle cx="315.05" cy="152.9" r="2.15"/><circle cx="317.32" cy="152.24" r="2.15"/><circle cx="319.58" cy="151.58" r="2.15"/><circle cx="321.85" cy="150.93" r="2.15"/><circle cx="324.11" cy="150.27" r="2.15"/><circle cx="326.37" cy="149.57" r="2.15"/><circle cx="328.64" cy="148.83" r="2.15"/><circle cx="330.9" cy="147.99" r="2.15"/><circle cx="333.17" cy="147.07" r="2.15"/><circle cx="335.43" cy="146.15" r="2.15"/><circle cx="337.69" cy="145.27" r="2.15"/><circle cx="339.96" cy="144.48" r="2.15"/><circle cx="342.22" cy="143.76" r="2.15"/><circle cx="344.49" cy="143.04" r="2.15"/><circle cx="346.75" cy="142.27" r="2.15"/><circle cx="349.01" cy="141.39" r="2.15"/><circle cx="351.28" cy="140.36" r="2.15"/><circle cx="353.54" cy="139.18" r="2.15"/><circle cx="355.81" cy="137.92" r="2.15"/><circle cx="358.07" cy="136.62" r="2.15"/><circle cx="360.33" cy="135.35" r="2.15"/><circle cx="362.6" cy="134.1" r="2.15"/><circle cx="364.86" cy="132.84" r="2.15"/><circle cx="367.13" cy="131.56" r="2.15"/><circle cx="369.39" cy="130.27" r="2.15"/><circle cx="371.65" cy="128.97" r="2.15"/><circle cx="373.92" cy="127.66" r="2.15"/><circle cx="376.18" cy="126.33" r="2.15"/><circle cx="378.45" cy="124.99" r="2.15"/><circle cx="380.71" cy="123.64" r="2.15"/><circle cx="382.97" cy="122.28" r="2.15"/><circle cx="385.24" cy="120.92" r="2.15"/><circle cx="387.5" cy="119.56" r="2.15"/><circle cx="389.77" cy="118.2" r="2.15"/><circle cx="392.03" cy="116.83" r="2.15"/><circle cx="394.29" cy="115.46" r="2.15"/><circle cx="396.56" cy="114.09" r="2.15"/><circle cx="398.82" cy="112.71" r="2.15"/><circle cx="401.09" cy="111.33" r="2.15"/><circle cx="403.35" cy="109.94" r="2.15"/><circle cx="405.61" cy="108.55" r="2.15"/><circle cx="407.88" cy="107.15" r="2.15"/><circle cx="410.14" cy="105.75" r="2.15"/><circle cx="412.41" cy="104.35" r="2.15"/><circle cx="414.67" cy="102.94" r="2.15"/><circle cx="416.93" cy="101.52" r="2.15"/><circle cx="419.2" cy="100.1" r="2.15"/><circle cx="421.46" cy="98.68" r="2.15"/><circle cx="423.73" cy="97.25" r="2.15"/><circle cx="425.99" cy="95.82" r="2.15"/><circle cx="428.25" cy="94.39" r="2.15"/><circle cx="430.52" cy="92.95" r="2.15"/><circle cx="432.78" cy="91.5" r="2.15"/><circle cx="435.05" cy="90.06" r="2.15"/><circle cx="437.31" cy="88.6" r="2.15"/><circle cx="439.57" cy="87.15" r="2.15"/><circle cx="441.84" cy="85.68" r="2.15"/><circle cx="444.1" cy="84.22" r="2.15"/><circle cx="446.37" cy="82.75" r="2.15"/><circle cx="448.63" cy="81.27" r="2.15"/><circle cx="450.89" cy="79.79" r="2.15"/><circle cx="453.16" cy="78.31" r="2.15"/><circle cx="455.42" cy="76.82" r="2.15"/><circle cx="457.69" cy="75.33" r="2.15"/><circle cx="459.95" cy="73.83" r="2.15"/><circle cx="462.21" cy="72.33" r="2.15"/><circle cx="464.48" cy="70.83" r="2.15"/><circle cx="466.74" cy="69.32" r="2.15"/><circle cx="469.01" cy="67.81" r="2.15"/><circle cx="471.27" cy="66.29" r="2.15"/><circle cx="473.53" cy="64.76" r="2.15"/><circle cx="475.8" cy="63.24" r="2.15"/><circle cx="478.06" cy="61.71" r="2.15"/><circle cx="480.33" cy="60.17" r="2.15"/><circle cx="482.59" cy="58.63" r="2.15"/><circle cx="484.85" cy="57.09" r="2.15"/><circle cx="487.12" cy="55.54" r="2.15"/><circle cx="489.38" cy="53.99" r="2.15"/><circle cx="491.65" cy="52.43" r="2.15"/></g>
<polyline points="288.41,174.9 293.64,172.19 298.87,169.45 304.1,166.69 309.34,163.91 314.57,161.1 319.8,158.27 325.03,155.42 330.26,152.55 335.49,149.65 340.72,146.73 345.95,143.78 351.18,140.81 356.41,137.82 361.64,134.81 366.87,131.77 372.1,128.71 377.33,125.63 382.56,122.52 387.79,119.39 393.02,116.23 398.25,113.06 403.48,109.86 408.71,106.63 413.94,103.39 419.17,100.12 424.4,96.83 429.63,93.51 434.87,90.17 440.1,86.81 445.33,83.42 450.56,80.01 455.79,76.58 461.02,73.13 466.25,69.65 471.48,66.15 476.71,62.62 481.94,59.07 487.17,55.5 492.4,51.91" stroke="#e05068" stroke-width="1.3" fill="none"/>
<rect x="66.3" y="11" width="439.2" height="315.1" fill="none" stroke="#161616" stroke-width="1.9"/>
<path d="M65.5,326.1v-6.3M65.5,11v6.3M102.17,326.1v-3.3M102.17,11v3.3M138.83,326.1v-6.3M138.83,11v6.3M175.5,326.1v-3.3M175.5,11v3.3M212.17,326.1v-6.3M212.17,11v6.3M248.83,326.1v-3.3M248.83,11v3.3M285.5,326.1v-6.3M285.5,11v6.3M322.17,326.1v-3.3M322.17,11v3.3M358.83,326.1v-6.3M358.83,11v6.3M395.5,326.1v-3.3M395.5,11v3.3M432.17,326.1v-6.3M432.17,11v6.3M468.83,326.1v-3.3M468.83,11v3.3M505.5,326.1v-6.3M505.5,11v6.3M66.3,326h6.3M505.5,326h-6.3M66.3,294.45h3.3M505.5,294.45h-3.3M66.3,262.9h6.3M505.5,262.9h-6.3M66.3,231.35h3.3M505.5,231.35h-3.3M66.3,199.8h6.3M505.5,199.8h-6.3M66.3,168.25h3.3M505.5,168.25h-3.3M66.3,136.7h6.3M505.5,136.7h-6.3M66.3,105.15h3.3M505.5,105.15h-3.3M66.3,73.6h6.3M505.5,73.6h-6.3M66.3,42.05h3.3M505.5,42.05h-3.3M66.3,10.5h6.3M505.5,10.5h-6.3" stroke="#161616" stroke-width="1.7" fill="none"/>
<path d="M73.5,437.1C74.5,437.78 77.72,439.92 79.5,441.2C81.28,442.48 82.75,443.95 84.2,444.8C85.65,445.65 87.07,446.1 88.2,446.3C89.33,446.5 90.03,446.13 91,446C91.97,445.87 92.63,445.35 94,445.5C95.37,445.65 96.8,446.18 99.2,446.9C101.6,447.62 105.33,448.93 108.4,449.8C111.47,450.67 115.33,451.67 117.6,452.1C119.87,452.53 120.45,452.37 122,452.4C123.55,452.43 125.12,452.7 126.9,452.3C128.68,451.9 130.97,450.87 132.7,450C134.43,449.13 135.95,447.68 137.3,447.1C138.65,446.52 139.45,446.4 140.8,446.5C142.15,446.6 143.87,447.02 145.4,447.7C146.93,448.38 148.47,449.25 150,450.6C151.53,451.95 152.77,453.15 154.6,455.8C156.43,458.45 159.43,463.99 161,466.53C162.57,469.06 163,469.51 164,471.02C165,472.53 166,474.06 167,475.59C168,477.12 169,478.66 170,480.21C171,481.75 172,483.31 173,484.86C174,486.42 175,487.98 176,489.53C177,491.08 178,492.64 179,494.18C180,495.73 181,497.27 182,498.8C183,500.33 184,501.86 185,503.37C186,504.87 187,506.37 188,507.85C189,509.33 190,510.8 191,512.24C192,513.68 193,515.11 194,516.51C195,517.92 196,519.31 197,520.68C198,522.05 199,523.39 200,524.73C201,526.07 202,527.4 203,528.71C204,530.02 205,531.32 206,532.59C207,533.87 208,535.13 209,536.37C210,537.61 211,538.84 212,540.05C213,541.25 214,542.45 215,543.62C216,544.8 217,545.96 218,547.1C219,548.25 220,549.38 221,550.49C222,551.6 223,552.7 224,553.78C225,554.87 226,555.93 227,556.99C228,558.04 229,559.08 230,560.1C231,561.13 232,562.14 233,563.14C234,564.13 235,565.11 236,566.08C237,567.05 238,568.01 239,568.95C240,569.89 241,570.82 242,571.73C243,572.65 244,573.55 245,574.44C246,575.33 247,576.21 248,577.08C249,577.94 250,578.8 251,579.64C252,580.48 253,581.31 254,582.13C255,582.94 256,583.75 257,584.54C258,585.34 259,586.12 260,586.89C261,587.66 262,588.42 263,589.17C264,589.92 265,590.66 266,591.39C267,592.12 268,592.84 269,593.55C270,594.25 271,594.95 272,595.64C273,596.33 274,597.01 275,597.67C276,598.34 277,599 278,599.65C279,600.3 280,600.94 281,601.57C282,602.2 283,602.82 284,603.43C285,604.05 286,604.65 287,605.25C288,605.84 289,606.43 290,607.01C291,607.59 292,608.16 293,608.72C294,609.29 295,609.84 296,610.39C297,610.94 298,611.48 299,612.01C300,612.54 301,613.07 302,613.59C303,614.11 304,614.62 305,615.12C306,615.63 307,616.13 308,616.62C309,617.11 310,617.59 311,618.07C312,618.55 313,619.02 314,619.49C315,619.95 316,620.41 317,620.86C318,621.31 319,621.76 320,622.2C321,622.64 322,623.07 323,623.5C324,623.93 325,624.35 326,624.76C327,625.18 328,625.59 329,625.99C330,626.4 331,626.8 332,627.19C333,627.58 334,627.97 335,628.35C336,628.74 337,629.11 338,629.48C339,629.86 340,630.22 341,630.58C342,630.95 343,631.3 344,631.65C345,632.01 346,632.35 347,632.7C348,633.04 349,633.38 350,633.71C351,634.04 352,634.37 353,634.69C354,635.02 355,635.34 356,635.65C357,635.97 358,636.28 359,636.58C360,636.89 361,637.19 362,637.49C363,637.79 364,638.09 365,638.38C366,638.67 367,638.96 368,639.24C369,639.52 370,639.8 371,640.08C372,640.36 373,640.63 374,640.9C375,641.17 376,641.44 377,641.7C378,641.96 379,642.22 380,642.48C381,642.74 382,642.99 383,643.24C384,643.5 385,643.74 386,643.99C387,644.24 388,644.48 389,644.72C390,644.96 391,645.2 392,645.43C393,645.67 394,645.9 395,646.13C396,646.36 397,646.59 398,646.82C399,647.05 400,647.27 401,647.49C402,647.72 403,647.94 404,648.16C405,648.38 406,648.59 407,648.81C408,649.02 409,649.24 410,649.45C411,649.66 412,649.87 413,650.08C414,650.28 415,650.49 416,650.69C417,650.9 418,651.1 419,651.3C420,651.5 421,651.7 422,651.89C423,652.09 424,652.28 425,652.48C426,652.67 427,652.86 428,653.05C429,653.24 430,653.43 431,653.61C432,653.8 433,653.98 434,654.17C435,654.35 436,654.53 437,654.71C438,654.89 439,655.06 440,655.24C441,655.41 442,655.59 443,655.76C444,655.93 445,656.1 446,656.27C447,656.44 448,656.61 449,656.77C450,656.94 451,657.1 452,657.27C453,657.43 454,657.59 455,657.75C456,657.91 457,658.06 458,658.22C459,658.38 460,658.53 461,658.68C462,658.84 463,658.99 464,659.14C465,659.29 466,659.44 467,659.58C468,659.73 469,659.88 470,660.02C471,660.16 472,660.31 473,660.45C474,660.59 475,660.73 476,660.86C477,661 478,661.14 479,661.27C480,661.41 481,661.54 482,661.68C483,661.81 484,661.94 485,662.07C486,662.2 487,662.33 488,662.45C489,662.58 490,662.71 491,662.83C492,662.95 493,663.08 494,663.2C495,663.32 496,663.44 497,663.56C498,663.68 499,663.8 500,663.91C501,664.03 502,664.14 503,664.26C504,664.37 505.47,664.54 506,664.6C506.53,664.66 506.17,664.61 506.2,664.62" fill="none" stroke="#1c1c1c" stroke-width="1.4" stroke-linejoin="round" stroke-linecap="round"/>
<path d="M74.3,435.4C75.55,435.68 79,436.33 81.8,437.1C84.6,437.87 88.02,439.03 91.1,440C94.18,440.97 97.42,442.13 100.3,442.9C103.18,443.67 106.12,444.17 108.4,444.6C110.68,445.03 112.08,445.3 114,445.5C115.92,445.7 117.75,445.92 119.9,445.8C122.05,445.68 124.97,445.35 126.9,444.8C128.83,444.25 130.15,443.33 131.5,442.5C132.85,441.67 134.03,440.35 135,439.8C135.97,439.25 136.55,439.23 137.3,439.2C138.05,439.17 138.73,439.33 139.5,439.6C140.27,439.87 140.53,439.73 141.9,440.8C143.27,441.87 145.97,444.15 147.7,446C149.43,447.85 150.58,449.22 152.3,451.9C154.02,454.58 156.55,459.66 158,462.1C159.45,464.53 160,465.01 161,466.49C162,467.97 163,469.48 164,470.99C165,472.5 166,474.02 167,475.56C168,477.09 169,478.63 170,480.18C171,481.73 172,483.28 173,484.84C174,486.39 175,487.95 176,489.51C177,491.06 178,492.62 179,494.16C180,495.71 181,497.25 182,498.79C183,500.32 184,501.84 185,503.35C186,504.86 187,506.36 188,507.84C189,509.32 190,510.79 191,512.23C192,513.67 193,515.1 194,516.51C195,517.91 196,519.3 197,520.67C198,522.04 199,523.39 200,524.73C201,526.07 202,527.4 203,528.71C204,530.02 205,531.32 206,532.59C207,533.87 208,535.13 209,536.37C210,537.61 211,538.84 212,540.05C213,541.25 214,542.45 215,543.62C216,544.8 217,545.96 218,547.1C219,548.25 220,549.38 221,550.49C222,551.6 223,552.7 224,553.78C225,554.87 226,555.93 227,556.99C228,558.04 229,559.08 230,560.1C231,561.13 232,562.14 233,563.14C234,564.13 235,565.11 236,566.08C237,567.05 238,568.01 239,568.95C240,569.89 241,570.82 242,571.73C243,572.65 244,573.55 245,574.44C246,575.33 247,576.21 248,577.08C249,577.94 250,578.8 251,579.64C252,580.48 253,581.31 254,582.13C255,582.94 256,583.75 257,584.54C258,585.34 259,586.12 260,586.89C261,587.66 262,588.42 263,589.17C264,589.92 265,590.66 266,591.39C267,592.12 268,592.84 269,593.55C270,594.25 271,594.95 272,595.64C273,596.33 274,597.01 275,597.67C276,598.34 277,599 278,599.65C279,600.3 280,600.94 281,601.57C282,602.2 283,602.82 284,603.43C285,604.05 286,604.65 287,605.25C288,605.84 289,606.43 290,607.01C291,607.59 292,608.16 293,608.72C294,609.29 295,609.84 296,610.39C297,610.94 298,611.48 299,612.01C300,612.54 301,613.07 302,613.59C303,614.11 304,614.62 305,615.12C306,615.63 307,616.13 308,616.62C309,617.11 310,617.59 311,618.07C312,618.55 313,619.02 314,619.49C315,619.95 316,620.41 317,620.86C318,621.31 319,621.76 320,622.2C321,622.64 322,623.07 323,623.5C324,623.93 325,624.35 326,624.76C327,625.18 328,625.59 329,625.99C330,626.4 331,626.8 332,627.19C333,627.58 334,627.97 335,628.35C336,628.74 337,629.11 338,629.48C339,629.86 340,630.22 341,630.58C342,630.95 343,631.3 344,631.65C345,632.01 346,632.35 347,632.7C348,633.04 349,633.38 350,633.71C351,634.04 352,634.37 353,634.69C354,635.02 355,635.34 356,635.65C357,635.97 358,636.28 359,636.58C360,636.89 361,637.19 362,637.49C363,637.79 364,638.09 365,638.38C366,638.67 367,638.96 368,639.24C369,639.52 370,639.8 371,640.08C372,640.36 373,640.63 374,640.9C375,641.17 376,641.44 377,641.7C378,641.96 379,642.22 380,642.48C381,642.74 382,642.99 383,643.24C384,643.5 385,643.74 386,643.99C387,644.24 388,644.48 389,644.72C390,644.96 391,645.2 392,645.43C393,645.67 394,645.9 395,646.13C396,646.36 397,646.59 398,646.82C399,647.05 400,647.27 401,647.49C402,647.72 403,647.94 404,648.16C405,648.38 406,648.59 407,648.81C408,649.02 409,649.24 410,649.45C411,649.66 412,649.87 413,650.08C414,650.28 415,650.49 416,650.69C417,650.9 418,651.1 419,651.3C420,651.5 421,651.7 422,651.89C423,652.09 424,652.28 425,652.48C426,652.67 427,652.86 428,653.05C429,653.24 430,653.43 431,653.61C432,653.8 433,653.98 434,654.17C435,654.35 436,654.53 437,654.71C438,654.89 439,655.06 440,655.24C441,655.41 442,655.59 443,655.76C444,655.93 445,656.1 446,656.27C447,656.44 448,656.61 449,656.77C450,656.94 451,657.1 452,657.27C453,657.43 454,657.59 455,657.75C456,657.91 457,658.06 458,658.22C459,658.38 460,658.53 461,658.68C462,658.84 463,658.99 464,659.14C465,659.29 466,659.44 467,659.58C468,659.73 469,659.88 470,660.02C471,660.16 472,660.31 473,660.45C474,660.59 475,660.73 476,660.86C477,661 478,661.14 479,661.27C480,661.41 481,661.54 482,661.68C483,661.81 484,661.94 485,662.07C486,662.2 487,662.33 488,662.45C489,662.58 490,662.71 491,662.83C492,662.95 493,663.08 494,663.2C495,663.32 496,663.44 497,663.56C498,663.68 499,663.8 500,663.91C501,664.03 502,664.14 503,664.26C504,664.37 505.47,664.54 506,664.6C506.53,664.66 506.17,664.61 506.2,664.62" fill="none" stroke="#e52a2a" stroke-width="1.4" stroke-linejoin="round" stroke-linecap="round"/>
<polyline points="74.3,431.6 75.3,432.16 76.3,432.12 77.3,432.07 78.3,432.38 79.3,432.35 80.3,432.88 81.3,433.49 82.3,433.04 83.3,433.22 84.3,433.84 85.3,434.02 86.3,434.15 87.3,434.02 88.3,434.56 89.3,435.04 90.3,434.55 91.3,435.08 92.3,434.78 93.3,435.2 94.3,435.22 95.3,435.99 96.3,435.83 97.3,436.58 98.3,436.74 99.3,436.83 100.3,436.22 101.3,437.16 102.3,437.58 103.3,437.88 104.3,437.55 105.3,438.17 106.3,438.24 107.3,438.55 108.3,439.45 109.3,439.01 110.3,439.5 111.3,440.04 112.3,439.74 113.3,440.13 114.3,440.42 115.3,440.62 116.3,440.17 117.3,440.63 118.3,441.08 119.3,440.06 120.3,440.85 121.3,440.42 122.3,439.98 123.3,440.73 124.3,440.13 125.3,439.27" fill="none" stroke="#2424c8" stroke-width="1.8" stroke-linejoin="round" stroke-linecap="round"/>
<path d="M120,440.6C120.97,440.43 124.17,440.15 125.8,439.6C127.43,439.05 128.75,438.3 129.8,437.3C130.85,436.3 131.43,434.45 132.1,433.6C132.77,432.75 133.23,432.4 133.8,432.2C134.37,432 134.92,432.22 135.5,432.4C136.08,432.58 136.03,432.1 137.3,433.3C138.57,434.5 141.18,437.4 143.1,439.6C145.02,441.8 146.88,444 148.8,446.5C150.72,449 152.57,451.35 154.6,454.6C156.63,457.85 159.43,463.37 161,466.03C162.57,468.69 163,469.03 164,470.56C165,472.08 166,473.62 167,475.16C168,476.71 169,478.27 170,479.82C171,481.38 172,482.95 173,484.52C174,486.08 175,487.65 176,489.22C177,490.79 178,492.35 179,493.91C180,495.47 181,497.03 182,498.57C183,500.11 184,501.65 185,503.17C186,504.69 187,506.21 188,507.7C189,509.19 190,510.67 191,512.12C192,513.58 193,515.02 194,516.44C195,517.86 196,519.26 197,520.64C198,522.02 199,523.38 200,524.73C201,526.08 202,527.4 203,528.71C204,530.02 205,531.32 206,532.59C207,533.87 208,535.13 209,536.37C210,537.61 211,538.84 212,540.05C213,541.25 214,542.45 215,543.62C216,544.8 217,545.96 218,547.1C219,548.25 220,549.38 221,550.49C222,551.6 223,552.7 224,553.78C225,554.87 226,555.93 227,556.99C228,558.04 229,559.08 230,560.1C231,561.13 232,562.14 233,563.14C234,564.13 235,565.11 236,566.08C237,567.05 238,568.01 239,568.95C240,569.89 241,570.82 242,571.73C243,572.65 244,573.55 245,574.44C246,575.33 247,576.21 248,577.08C249,577.94 250,578.8 251,579.64C252,580.48 253,581.31 254,582.13C255,582.94 256,583.75 257,584.54C258,585.34 259,586.12 260,586.89C261,587.66 262,588.42 263,589.17C264,589.92 265,590.66 266,591.39C267,592.12 268,592.84 269,593.55C270,594.25 271,594.95 272,595.64C273,596.33 274,597.01 275,597.67C276,598.34 277,599 278,599.65C279,600.3 280,600.94 281,601.57C282,602.2 283,602.82 284,603.43C285,604.05 286,604.65 287,605.25C288,605.84 289,606.43 290,607.01C291,607.59 292,608.16 293,608.72C294,609.29 295,609.84 296,610.39C297,610.94 298,611.48 299,612.01C300,612.54 301,613.07 302,613.59C303,614.11 304,614.62 305,615.12C306,615.63 307,616.13 308,616.62C309,617.11 310,617.59 311,618.07C312,618.55 313,619.02 314,619.49C315,619.95 316,620.41 317,620.86C318,621.31 319,621.76 320,622.2C321,622.64 322,623.07 323,623.5C324,623.93 325,624.35 326,624.76C327,625.18 328,625.59 329,625.99C330,626.4 331,626.8 332,627.19C333,627.58 334,627.97 335,628.35C336,628.74 337,629.11 338,629.48C339,629.86 340,630.22 341,630.58C342,630.95 343,631.3 344,631.65C345,632.01 346,632.35 347,632.7C348,633.04 349,633.38 350,633.71C351,634.04 352,634.37 353,634.69C354,635.02 355,635.34 356,635.65C357,635.97 358,636.28 359,636.58C360,636.89 361,637.19 362,637.49C363,637.79 364,638.09 365,638.38C366,638.67 367,638.96 368,639.24C369,639.52 370,639.8 371,640.08C372,640.36 373,640.63 374,640.9C375,641.17 376,641.44 377,641.7C378,641.96 379,642.22 380,642.48C381,642.74 382,642.99 383,643.24C384,643.5 385,643.74 386,643.99C387,644.24 388,644.48 389,644.72C390,644.96 391,645.2 392,645.43C393,645.67 394,645.9 395,646.13C396,646.36 397,646.59 398,646.82C399,647.05 400,647.27 401,647.49C402,647.72 403,647.94 404,648.16C405,648.38 406,648.59 407,648.81C408,649.02 409,649.24 410,649.45C411,649.66 412,649.87 413,650.08C414,650.28 415,650.49 416,650.69C417,650.9 418,651.1 419,651.3C420,651.5 421,651.7 422,651.89C423,652.09 424,652.28 425,652.48C426,652.67 427,652.86 428,653.05C429,653.24 430,653.43 431,653.61C432,653.8 433,653.98 434,654.17C435,654.35 436,654.53 437,654.71C438,654.89 439,655.06 440,655.24C441,655.41 442,655.59 443,655.76C444,655.93 445,656.1 446,656.27C447,656.44 448,656.61 449,656.77C450,656.94 451,657.1 452,657.27C453,657.43 454,657.59 455,657.75C456,657.91 457,658.06 458,658.22C459,658.38 460,658.53 461,658.68C462,658.84 463,658.99 464,659.14C465,659.29 466,659.44 467,659.58C468,659.73 469,659.88 470,660.02C471,660.16 472,660.31 473,660.45C474,660.59 475,660.73 476,660.86C477,661 478,661.14 479,661.27C480,661.41 481,661.54 482,661.68C483,661.81 484,661.94 485,662.07C486,662.2 487,662.33 488,662.45C489,662.58 490,662.71 491,662.83C492,662.95 493,663.08 494,663.2C495,663.32 496,663.44 497,663.56C498,663.68 499,663.8 500,663.91C501,664.03 502,664.14 503,664.26C504,664.37 505.47,664.54 506,664.6C506.53,664.66 506.17,664.61 506.2,664.62" fill="none" stroke="#2424c8" stroke-width="1.7" stroke-linejoin="round" stroke-linecap="round"/>
<rect x="268.5" y="401.8" width="221.2" height="159" fill="#fff" stroke="#161616" stroke-width="1.4"/>
<path d="M268.5,560.8v-4M268.5,401.8v4M305.37,560.8v-2.4M305.37,401.8v2.4M342.23,560.8v-4M342.23,401.8v4M379.1,560.8v-2.4M379.1,401.8v2.4M415.97,560.8v-4M415.97,401.8v4M452.83,560.8v-2.4M452.83,401.8v2.4M489.7,560.8v-4M489.7,401.8v4M268.5,560.8h4M489.7,560.8h-4M268.5,534.3h2.4M489.7,534.3h-2.4M268.5,507.8h4M489.7,507.8h-4M268.5,481.3h2.4M489.7,481.3h-2.4M268.5,454.8h4M489.7,454.8h-4M268.5,428.3h2.4M489.7,428.3h-2.4M268.5,401.8h4M489.7,401.8h-4" stroke="#161616" stroke-width="1.2" fill="none"/>
<g fill="none" stroke="#1e1e1e" stroke-width="1.0" stroke-linejoin="miter"><path d="M272.19,534.31l2.7,4.6h-5.4z"/><path d="M274.4,534.31l2.7,4.6h-5.4z"/><path d="M276.61,534.31l2.7,4.6h-5.4z"/><path d="M278.82,534.31l2.7,4.6h-5.4z"/><path d="M281.03,534.31l2.7,4.6h-5.4z"/><path d="M283.25,534.31l2.7,4.6h-5.4z"/><path d="M285.46,534.31l2.7,4.6h-5.4z"/><path d="M287.67,534.31l2.7,4.6h-5.4z"/><path d="M289.88,534.31l2.7,4.6h-5.4z"/><path d="M292.09,534.31l2.7,4.6h-5.4z"/><path d="M294.31,534.34l2.7,4.6h-5.4z"/><path d="M296.52,534.39l2.7,4.6h-5.4z"/><path d="M298.73,534.43l2.7,4.6h-5.4z"/><path d="M300.94,534.47l2.7,4.6h-5.4z"/><path d="M303.15,534.4l2.7,4.6h-5.4z"/><path d="M305.37,534l2.7,4.6h-5.4z"/><path d="M307.58,533.52l2.7,4.6h-5.4z"/><path d="M309.79,533.06l2.7,4.6h-5.4z"/><path d="M312,532.53l2.7,4.6h-5.4z"/><path d="M314.21,531.93l2.7,4.6h-5.4z"/><path d="M316.43,531.22l2.7,4.6h-5.4z"/><path d="M318.64,530.37l2.7,4.6h-5.4z"/><path d="M320.85,529.43l2.7,4.6h-5.4z"/><path d="M323.06,528.43l2.7,4.6h-5.4z"/><path d="M325.27,527.42l2.7,4.6h-5.4z"/><path d="M327.49,526.43l2.7,4.6h-5.4z"/><path d="M329.7,525.48l2.7,4.6h-5.4z"/><path d="M331.91,524.54l2.7,4.6h-5.4z"/><path d="M334.12,523.57l2.7,4.6h-5.4z"/><path d="M336.33,522.55l2.7,4.6h-5.4z"/><path d="M338.55,521.42l2.7,4.6h-5.4z"/><path d="M340.76,520.15l2.7,4.6h-5.4z"/><path d="M342.97,518.59l2.7,4.6h-5.4z"/><path d="M345.18,516.84l2.7,4.6h-5.4z"/><path d="M347.39,515.04l2.7,4.6h-5.4z"/><path d="M349.61,513.34l2.7,4.6h-5.4z"/><path d="M351.82,511.82l2.7,4.6h-5.4z"/><path d="M354.03,510.39l2.7,4.6h-5.4z"/><path d="M356.24,509.01l2.7,4.6h-5.4z"/><path d="M358.45,507.63l2.7,4.6h-5.4z"/><path d="M360.67,506.2l2.7,4.6h-5.4z"/><path d="M362.88,504.73l2.7,4.6h-5.4z"/><path d="M365.09,503.24l2.7,4.6h-5.4z"/><path d="M367.3,501.74l2.7,4.6h-5.4z"/><path d="M369.51,500.21l2.7,4.6h-5.4z"/><path d="M371.73,498.67l2.7,4.6h-5.4z"/><path d="M373.94,497.12l2.7,4.6h-5.4z"/><path d="M376.15,495.54l2.7,4.6h-5.4z"/><path d="M378.36,493.96l2.7,4.6h-5.4z"/><path d="M380.57,492.36l2.7,4.6h-5.4z"/><path d="M382.79,490.75l2.7,4.6h-5.4z"/><path d="M385,489.15l2.7,4.6h-5.4z"/><path d="M387.21,487.55l2.7,4.6h-5.4z"/><path d="M389.42,485.94l2.7,4.6h-5.4z"/><path d="M391.63,484.33l2.7,4.6h-5.4z"/><path d="M393.85,482.72l2.7,4.6h-5.4z"/><path d="M396.06,481.11l2.7,4.6h-5.4z"/><path d="M398.27,479.49l2.7,4.6h-5.4z"/><path d="M400.48,477.87l2.7,4.6h-5.4z"/><path d="M402.69,476.25l2.7,4.6h-5.4z"/><path d="M404.91,474.62l2.7,4.6h-5.4z"/><path d="M407.12,472.99l2.7,4.6h-5.4z"/><path d="M409.33,471.35l2.7,4.6h-5.4z"/><path d="M411.54,469.72l2.7,4.6h-5.4z"/><path d="M413.75,468.08l2.7,4.6h-5.4z"/><path d="M415.97,466.43l2.7,4.6h-5.4z"/><path d="M418.18,464.78l2.7,4.6h-5.4z"/><path d="M420.39,463.13l2.7,4.6h-5.4z"/><path d="M422.6,461.48l2.7,4.6h-5.4z"/><path d="M424.81,459.82l2.7,4.6h-5.4z"/><path d="M427.03,458.16l2.7,4.6h-5.4z"/><path d="M429.24,456.49l2.7,4.6h-5.4z"/><path d="M431.45,454.82l2.7,4.6h-5.4z"/><path d="M433.66,453.15l2.7,4.6h-5.4z"/><path d="M435.87,451.47l2.7,4.6h-5.4z"/><path d="M438.09,449.79l2.7,4.6h-5.4z"/><path d="M440.3,448.11l2.7,4.6h-5.4z"/><path d="M442.51,446.43l2.7,4.6h-5.4z"/><path d="M444.72,444.74l2.7,4.6h-5.4z"/><path d="M446.93,443.04l2.7,4.6h-5.4z"/><path d="M449.15,441.35l2.7,4.6h-5.4z"/><path d="M451.36,439.65l2.7,4.6h-5.4z"/><path d="M453.57,437.95l2.7,4.6h-5.4z"/><path d="M455.78,436.24l2.7,4.6h-5.4z"/><path d="M457.99,434.53l2.7,4.6h-5.4z"/><path d="M460.21,432.82l2.7,4.6h-5.4z"/><path d="M462.42,431.1l2.7,4.6h-5.4z"/><path d="M464.63,429.38l2.7,4.6h-5.4z"/><path d="M466.84,427.66l2.7,4.6h-5.4z"/><path d="M469.05,425.93l2.7,4.6h-5.4z"/><path d="M471.27,424.2l2.7,4.6h-5.4z"/><path d="M473.48,422.46l2.7,4.6h-5.4z"/><path d="M475.69,420.73l2.7,4.6h-5.4z"/><path d="M477.9,418.99l2.7,4.6h-5.4z"/><path d="M480.11,417.24l2.7,4.6h-5.4z"/><path d="M482.33,415.5l2.7,4.6h-5.4z"/><path d="M484.54,413.74l2.7,4.6h-5.4z"/><path d="M486.75,411.99l2.7,4.6h-5.4z"/><path d="M488.96,410.23l2.7,4.6h-5.4z"/></g>
<polyline points="285.02,560.8 290.26,557.36 295.51,553.91 300.76,550.44 306.01,546.94 311.26,543.43 316.51,539.9 321.75,536.35 327,532.78 332.25,529.19 337.5,525.58 342.75,521.95 348,518.31 353.24,514.64 358.49,510.95 363.74,507.25 368.99,503.53 374.24,499.78 379.49,496.02 384.73,492.24 389.98,488.44 395.23,484.61 400.48,480.77 405.73,476.92 410.98,473.04 416.22,469.14 421.47,465.22 426.72,461.29 431.97,457.33 437.22,453.35 442.47,449.36 447.71,445.35 452.96,441.31 458.21,437.26 463.46,433.19 468.71,429.1 473.96,424.99 479.2,420.86 484.45,416.71 489.7,412.55" stroke="#e05068" stroke-width="1.3" fill="none"/>
<rect x="70.5" y="387.8" width="435.7" height="319.1" fill="none" stroke="#161616" stroke-width="1.9"/>
<path d="M70.8,706.9v-6.3M70.8,387.8v6.3M107.08,706.9v-3.3M107.08,387.8v3.3M143.37,706.9v-6.3M143.37,387.8v6.3M179.65,706.9v-3.3M179.65,387.8v3.3M215.93,706.9v-6.3M215.93,387.8v6.3M252.22,706.9v-3.3M252.22,387.8v3.3M288.5,706.9v-6.3M288.5,387.8v6.3M324.78,706.9v-3.3M324.78,387.8v3.3M361.07,706.9v-6.3M361.07,387.8v6.3M397.35,706.9v-3.3M397.35,387.8v3.3M433.63,706.9v-6.3M433.63,387.8v6.3M469.92,706.9v-3.3M469.92,387.8v3.3M506.2,706.9v-6.3M506.2,387.8v6.3M70.5,707h6.3M506.2,707h-6.3M70.5,677.42h3.3M506.2,677.42h-3.3M70.5,647.84h6.3M506.2,647.84h-6.3M70.5,618.26h3.3M506.2,618.26h-3.3M70.5,588.68h6.3M506.2,588.68h-6.3M70.5,559.1h3.3M506.2,559.1h-3.3M70.5,529.52h6.3M506.2,529.52h-6.3M70.5,499.94h3.3M506.2,499.94h-3.3M70.5,470.36h6.3M506.2,470.36h-6.3M70.5,440.78h3.3M506.2,440.78h-3.3M70.5,411.2h6.3M506.2,411.2h-6.3" stroke="#161616" stroke-width="1.7" fill="none"/>
<text x="1.0" y="18.3" style="font-family:'DejaVu Sans','Liberation Sans',sans-serif;font-size:20.5px;letter-spacing:0.6px" fill="#111">(a)</text>
<text x="58.6" y="330.3" text-anchor="end" style="font-family:'Liberation Sans',Arial,sans-serif;font-size:17px" fill="#111">0</text>
<text x="58.6" y="267.2" text-anchor="end" style="font-family:'Liberation Sans',Arial,sans-serif;font-size:17px" fill="#111">5</text>
<text x="58.6" y="204.1" text-anchor="end" style="font-family:'Liberation Sans',Arial,sans-serif;font-size:17px" fill="#111">10</text>
<text x="58.6" y="141" text-anchor="end" style="font-family:'Liberation Sans',Arial,sans-serif;font-size:17px" fill="#111">15</text>
<text x="58.6" y="77.9" text-anchor="end" style="font-family:'Liberation Sans',Arial,sans-serif;font-size:17px" fill="#111">20</text>
<text x="58.6" y="14.8" text-anchor="end" style="font-family:'Liberation Sans',Arial,sans-serif;font-size:17px" fill="#111">25</text>
<text x="65.5" y="345.9" text-anchor="middle" style="font-family:'Liberation Sans',Arial,sans-serif;font-size:16.6px" fill="#111">0</text>
<text x="138.83" y="345.9" text-anchor="middle" style="font-family:'Liberation Sans',Arial,sans-serif;font-size:16.6px" fill="#111">50</text>
<text x="212.17" y="345.9" text-anchor="middle" style="font-family:'Liberation Sans',Arial,sans-serif;font-size:16.6px" fill="#111">100</text>
<text x="285.5" y="345.9" text-anchor="middle" style="font-family:'Liberation Sans',Arial,sans-serif;font-size:16.6px" fill="#111">150</text>
<text x="358.83" y="345.9" text-anchor="middle" style="font-family:'Liberation Sans',Arial,sans-serif;font-size:16.6px" fill="#111">200</text>
<text x="432.17" y="345.9" text-anchor="middle" style="font-family:'Liberation Sans',Arial,sans-serif;font-size:16.6px" fill="#111">250</text>
<text x="505.5" y="345.9" text-anchor="middle" style="font-family:'Liberation Sans',Arial,sans-serif;font-size:16.6px" fill="#111">300</text>
<text x="286.0" y="372.4" text-anchor="middle" style="font-family:'Liberation Sans',Arial,sans-serif;font-size:19.5px" fill="#111">T (K)</text>
<text transform="translate(17.2,171.8) rotate(-90)" text-anchor="middle" style="font-family:'Liberation Serif','Times New Roman',serif;font-size:18.5px" fill="#111"><tspan font-family="DejaVu Serif" font-size="17.02">&#967;</tspan> (10<tspan dy="-9.4" font-size="10.5">-8</tspan><tspan dy="9.4"> m</tspan><tspan dy="-9.4" font-size="10.5">3</tspan><tspan dy="9.4">mol</tspan><tspan dy="-9.4" font-size="10.5">-1</tspan><tspan dy="9.4">)</tspan></text>
<path d="M117.3,188.8H155.9" stroke="#2a2a2a" stroke-width="1.3"/>
<text x="161.6" y="194.6" style="font-family:'Liberation Sans',Arial,sans-serif;font-size:16.5px" fill="#111">1 T</text>
<path d="M117.3,209.3H155.9" stroke="#d83a3a" stroke-width="1.3"/>
<text x="161.6" y="215.1" style="font-family:'Liberation Sans',Arial,sans-serif;font-size:16.5px" fill="#111">2 T</text>
<path d="M117.3,230H155.9" stroke="#3a3ab4" stroke-width="1.3"/>
<text x="161.6" y="235.8" style="font-family:'Liberation Sans',Arial,sans-serif;font-size:16.5px" fill="#111">3 T</text>
<path d="M117.3,250.3H155.9" stroke="#d848d8" stroke-width="1.3"/>
<text x="161.6" y="256.1" style="font-family:'Liberation Sans',Arial,sans-serif;font-size:16.5px" fill="#111">6 T</text>
<path d="M117.3,270.7H155.9" stroke="#3a853a" stroke-width="1.3"/>
<text x="161.6" y="276.5" style="font-family:'Liberation Sans',Arial,sans-serif;font-size:16.5px" fill="#111">10 T</text>
<path d="M117.3,291.3H155.9" stroke="#eba064" stroke-width="1.3"/>
<text x="161.6" y="297.1" style="font-family:'Liberation Sans',Arial,sans-serif;font-size:16.5px" fill="#111">14 T</text>
<text x="232.4" y="241.6" style="font-family:'Liberation Sans',Arial,sans-serif;font-size:19.6px" fill="#111">NiBr<tspan font-size="12.5" dy="7">2</tspan></text>
<text x="225.2" y="275.6" style="font-family:'Liberation Serif','Times New Roman',serif;font-size:19px" fill="#111">&#956;<tspan font-size="10.8" dy="5.8">0</tspan><tspan dy="-5.8">H // ab</tspan></text>
<text x="262.4" y="178.5" text-anchor="end" style="font-family:'Liberation Sans',Arial,sans-serif;font-size:11.4px" fill="#111">0.0</text>
<text x="262.4" y="135" text-anchor="end" style="font-family:'Liberation Sans',Arial,sans-serif;font-size:11.4px" fill="#111">0.1</text>
<text x="262.4" y="91.5" text-anchor="end" style="font-family:'Liberation Sans',Arial,sans-serif;font-size:11.4px" fill="#111">0.2</text>
<text x="262.4" y="48" text-anchor="end" style="font-family:'Liberation Sans',Arial,sans-serif;font-size:11.4px" fill="#111">0.3</text>
<text x="266" y="186.8" text-anchor="middle" style="font-family:'Liberation Sans',Arial,sans-serif;font-size:11.4px" fill="#111">0</text>
<text x="341.47" y="186.8" text-anchor="middle" style="font-family:'Liberation Sans',Arial,sans-serif;font-size:11.4px" fill="#111">100</text>
<text x="416.93" y="186.8" text-anchor="middle" style="font-family:'Liberation Sans',Arial,sans-serif;font-size:11.4px" fill="#111">200</text>
<text x="492.4" y="186.8" text-anchor="middle" style="font-family:'Liberation Sans',Arial,sans-serif;font-size:11.4px" fill="#111">300</text>
<text x="383.4" y="198" text-anchor="middle" style="font-family:'Liberation Sans',Arial,sans-serif;font-size:14.2px" fill="#111">T (K)</text>
<text transform="translate(237.9,104.05) rotate(-90)" text-anchor="middle" style="font-family:'Liberation Serif','Times New Roman',serif;font-size:13.4px" fill="#111"><tspan font-family="Liberation Sans" font-size="13.13">1/</tspan><tspan font-family="DejaVu Serif" font-style="italic" font-size="11.39">&#967;</tspan> (10<tspan dy="-6.2" font-size="8.0">8</tspan><tspan dy="6.2"> mol m</tspan><tspan dy="-6.2" font-size="8.0">-3</tspan><tspan dy="6.2">)</tspan></text>
<circle cx="308.3" cy="53.4" r="1.9" fill="none" stroke="#1e1e1e" stroke-width="1.0"/>
<text x="330.3" y="57.6" style="font-family:'Liberation Sans',Arial,sans-serif;font-size:14px" fill="#111">14 T data</text>
<path d="M292.4,69.7H325.2" stroke="#e02828" stroke-width="1.2"/>
<text x="329.6" y="74.2" style="font-family:'Liberation Sans',Arial,sans-serif;font-size:14.3px" fill="#111">MCW fit</text>
<text x="5.9" y="402.0" style="font-family:'DejaVu Sans','Liberation Sans',sans-serif;font-size:21.3px" fill="#111">(b)</text>
<text x="63.2" y="712.4" text-anchor="end" style="font-family:'Liberation Serif','Times New Roman',serif;font-size:18.2px" fill="#111">0</text>
<text x="63.2" y="653.24" text-anchor="end" style="font-family:'Liberation Serif','Times New Roman',serif;font-size:18.2px" fill="#111">5</text>
<text x="63.2" y="594.08" text-anchor="end" style="font-family:'Liberation Serif','Times New Roman',serif;font-size:18.2px" fill="#111">10</text>
<text x="63.2" y="534.92" text-anchor="end" style="font-family:'Liberation Serif','Times New Roman',serif;font-size:18.2px" fill="#111">15</text>
<text x="63.2" y="475.76" text-anchor="end" style="font-family:'Liberation Serif','Times New Roman',serif;font-size:18.2px" fill="#111">20</text>
<text x="63.2" y="416.6" text-anchor="end" style="font-family:'Liberation Serif','Times New Roman',serif;font-size:18.2px" fill="#111">25</text>
<text x="70.8" y="727.7" text-anchor="middle" style="font-family:'Liberation Serif','Times New Roman',serif;font-size:18.2px" fill="#111">0</text>
<text x="143.37" y="727.7" text-anchor="middle" style="font-family:'Liberation Serif','Times New Roman',serif;font-size:18.2px" fill="#111">50</text>
<text x="215.93" y="727.7" text-anchor="middle" style="font-family:'Liberation Serif','Times New Roman',serif;font-size:18.2px" fill="#111">100</text>
<text x="288.5" y="727.7" text-anchor="middle" style="font-family:'Liberation Serif','Times New Roman',serif;font-size:18.2px" fill="#111">150</text>
<text x="361.07" y="727.7" text-anchor="middle" style="font-family:'Liberation Serif','Times New Roman',serif;font-size:18.2px" fill="#111">200</text>
<text x="433.63" y="727.7" text-anchor="middle" style="font-family:'Liberation Serif','Times New Roman',serif;font-size:18.2px" fill="#111">250</text>
<text x="506.2" y="727.7" text-anchor="middle" style="font-family:'Liberation Serif','Times New Roman',serif;font-size:18.2px" fill="#111">300</text>
<text x="291.6" y="761.4" style="font-family:'Liberation Sans',Arial,sans-serif;font-size:18.8px" fill="#111">T (K)</text>
<text transform="translate(17.6,533.4) rotate(-90)" text-anchor="middle" style="font-family:'Liberation Serif','Times New Roman',serif;font-size:18.6px" fill="#111"><tspan font-family="DejaVu Serif" font-size="17.11">&#967;</tspan> (10<tspan dy="-9.4" font-size="10.5">-8</tspan><tspan dy="9.4"> m</tspan><tspan dy="-9.4" font-size="10.5">3</tspan><tspan dy="9.4">mol</tspan><tspan dy="-9.4" font-size="10.5">-1</tspan><tspan dy="9.4">)</tspan></text>
<path d="M98.1,633.1H136.5" stroke="#2a2a2a" stroke-width="1.3"/>
<text x="141.3" y="638.4" style="font-family:'Liberation Sans',Arial,sans-serif;font-size:16.5px" fill="#111">6 T</text>
<path d="M98.1,653.7H136.5" stroke="#d83a3a" stroke-width="1.3"/>
<text x="141.3" y="659" style="font-family:'Liberation Sans',Arial,sans-serif;font-size:16.5px" fill="#111">10 T</text>
<path d="M98.1,674.2H136.5" stroke="#3a3ab4" stroke-width="1.3"/>
<text x="141.3" y="679.5" style="font-family:'Liberation Sans',Arial,sans-serif;font-size:16.5px" fill="#111">14 T</text>
<text x="123.4" y="535.3" style="font-family:'Liberation Sans',Arial,sans-serif;font-size:19.6px" fill="#111">NiBr<tspan font-size="12.5" dy="7.2">2</tspan></text>
<text x="114.8" y="575.1" style="font-family:'Liberation Serif','Times New Roman',serif;font-size:19px" fill="#111">&#956;<tspan font-size="10.8" dy="5.8">0</tspan><tspan dy="-5.8">H // c</tspan></text>
<text x="264.8" y="563.8" text-anchor="end" style="font-family:'Liberation Sans',Arial,sans-serif;font-size:11.4px" fill="#111">0.0</text>
<text x="264.8" y="510.8" text-anchor="end" style="font-family:'Liberation Sans',Arial,sans-serif;font-size:11.4px" fill="#111">0.1</text>
<text x="264.8" y="457.8" text-anchor="end" style="font-family:'Liberation Sans',Arial,sans-serif;font-size:11.4px" fill="#111">0.2</text>
<text x="264.8" y="404.8" text-anchor="end" style="font-family:'Liberation Sans',Arial,sans-serif;font-size:11.4px" fill="#111">0.3</text>
<text x="268.5" y="572.8" text-anchor="middle" style="font-family:'Liberation Sans',Arial,sans-serif;font-size:11.4px" fill="#111">0</text>
<text x="342.23" y="572.8" text-anchor="middle" style="font-family:'Liberation Sans',Arial,sans-serif;font-size:11.4px" fill="#111">100</text>
<text x="415.97" y="572.8" text-anchor="middle" style="font-family:'Liberation Sans',Arial,sans-serif;font-size:11.4px" fill="#111">200</text>
<text x="489.7" y="572.8" text-anchor="middle" style="font-family:'Liberation Sans',Arial,sans-serif;font-size:11.4px" fill="#111">300</text>
<text x="376.8" y="590.5" text-anchor="middle" style="font-family:'Liberation Sans',Arial,sans-serif;font-size:14.2px" fill="#111">T (K)</text>
<text transform="translate(242.8,484.2) rotate(-90)" text-anchor="middle" style="font-family:'Liberation Serif','Times New Roman',serif;font-size:14.0px" fill="#111"><tspan font-family="Liberation Sans" font-size="13.72">1/</tspan><tspan font-family="DejaVu Serif" font-style="italic" font-size="11.9">&#967;</tspan> (10<tspan dy="-6.4" font-size="8.4">8</tspan><tspan dy="6.4"> mol m</tspan><tspan dy="-6.4" font-size="8.4">-3</tspan><tspan dy="6.4">)</tspan></text>
<path d="M299.2,423.4l2.7,4.6h-5.4z" fill="none" stroke="#1e1e1e" stroke-width="1.0"/>
<text x="320" y="431" style="font-family:'Liberation Sans',Arial,sans-serif;font-size:14px" fill="#111">14 T data</text>
<path d="M283.3,443.7H315.7" stroke="#e02828" stroke-width="1.2"/>
<text x="319.4" y="448.5" style="font-family:'Liberation Sans',Arial,sans-serif;font-size:14.3px" fill="#111">MCW fit</text>
</svg>
</body></html>
